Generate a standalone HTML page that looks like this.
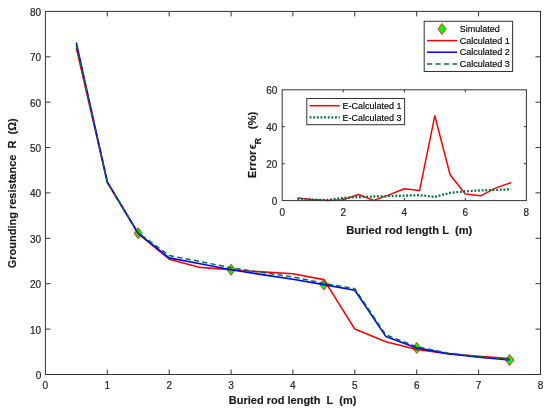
<!DOCTYPE html>
<html><head><meta charset="utf-8"><title>Grounding resistance</title>
<style>html,body{margin:0;padding:0;background:#fff}svg{display:block}</style></head>
<body>
<svg width="550" height="411" viewBox="0 0 550 411">
<rect width="550" height="411" fill="#fff"/>
<path d="M138.2 227.8L142.3 233.3L138.2 238.8L134.1 233.3Z" fill="#0f0" stroke="#e81c10" stroke-width="0.9"/>
<path d="M231.1 264.2L235.2 269.7L231.1 275.2L227.0 269.7Z" fill="#0f0" stroke="#e81c10" stroke-width="0.9"/>
<path d="M323.9 279.1L328.0 284.6L323.9 290.1L319.8 284.6Z" fill="#0f0" stroke="#e81c10" stroke-width="0.9"/>
<path d="M416.7 342.4L420.8 347.9L416.7 353.4L412.6 347.9Z" fill="#0f0" stroke="#e81c10" stroke-width="0.9"/>
<path d="M509.6 354.5L513.7 360.0L509.6 365.5L505.5 360.0Z" fill="#0f0" stroke="#e81c10" stroke-width="0.9"/>
<g fill="none" stroke-linejoin="round">
<polyline points="76.3,47.7 107.3,182.5 138.2,233.6 169.2,259.2 200.1,267.4 231.1,269.7 262.0,271.9 292.9,273.7 323.9,279.6 354.8,329.1 385.8,341.8 416.7,349.5 447.7,353.6 478.6,356.3 509.6,358.6" stroke="#f00" stroke-width="1.6"/>
<polyline points="76.3,42.7 107.3,181.8 138.2,233.3 169.2,257.9 200.1,263.8 231.1,269.7 262.0,274.6 292.9,279.2 323.9,284.6 354.8,290.3 385.8,336.4 416.7,347.9 447.7,353.6 478.6,357.3 509.6,360.0" stroke="#00f" stroke-width="1.6"/>
<polyline points="76.3,45.0 107.3,182.1 138.2,232.7 169.2,255.6 200.1,261.5 231.1,267.8 262.0,272.4 292.9,276.9 323.9,283.3 354.8,288.7 385.8,334.8 416.7,346.8 447.7,352.9 478.6,356.6 509.6,359.3" stroke="#00703c" stroke-width="1.5" stroke-dasharray="5.2 3.3"/>
</g>
<g stroke="#333" stroke-width="1" fill="none">
<rect x="45.4" y="11.4" width="495.1" height="363.1"/>
<path d="M107.3 374.5v-5M107.3 11.4v5M169.2 374.5v-5M169.2 11.4v5M231.1 374.5v-5M231.1 11.4v5M292.9 374.5v-5M292.9 11.4v5M354.8 374.5v-5M354.8 11.4v5M416.7 374.5v-5M416.7 11.4v5M478.6 374.5v-5M478.6 11.4v5M45.4 329.1h5M540.5 329.1h-5M45.4 283.7h5M540.5 283.7h-5M45.4 238.3h5M540.5 238.3h-5M45.4 192.9h5M540.5 192.9h-5M45.4 147.6h5M540.5 147.6h-5M45.4 102.2h5M540.5 102.2h-5M45.4 56.8h5M540.5 56.8h-5"/>
</g>
<rect x="282.2" y="89.8" width="244.2" height="110.8" fill="#fff"/>
<g fill="none" stroke-linejoin="round">
<polyline points="297.5,198.0 312.7,199.5 328.0,200.4 343.2,199.7 358.5,194.5 373.8,200.4 389.0,194.9 404.3,188.8 419.6,190.4 434.8,115.8 450.1,174.7 465.3,194.0 480.6,195.8 495.9,187.9 511.1,182.7" stroke="#f00" stroke-width="1.5"/>
<polyline points="297.5,198.9 312.7,199.7 328.0,200.0 343.2,197.8 358.5,197.1 373.8,196.5 389.0,196.2 404.3,195.6 419.6,195.2 434.8,196.9 450.1,192.8 465.3,191.4 480.6,190.4 495.9,189.9 511.1,189.3" stroke="#00703c" stroke-width="2.3" stroke-dasharray="1.85 1.78"/>
</g>
<g stroke="#333" stroke-width="1" fill="none">
<rect x="282.2" y="89.8" width="244.2" height="110.8"/>
<path d="M343.2 200.6v-2.6M343.2 89.8v2.6M404.3 200.6v-2.6M404.3 89.8v2.6M465.3 200.6v-2.6M465.3 89.8v2.6M282.2 163.7h2.6M526.4 163.7h-2.6M282.2 126.7h2.6M526.4 126.7h-2.6"/>
</g>
<g font-family="Liberation Sans, Arial, sans-serif" font-size="10" fill="#262626" stroke="#262626" stroke-width="0.2">
<text x="45.4" y="389" text-anchor="middle">0</text>
<text x="107.3" y="389" text-anchor="middle">1</text>
<text x="169.2" y="389" text-anchor="middle">2</text>
<text x="231.1" y="389" text-anchor="middle">3</text>
<text x="292.9" y="389" text-anchor="middle">4</text>
<text x="354.8" y="389" text-anchor="middle">5</text>
<text x="416.7" y="389" text-anchor="middle">6</text>
<text x="478.6" y="389" text-anchor="middle">7</text>
<text x="540.5" y="389" text-anchor="middle">8</text>
<text x="41.2" y="378.9" text-anchor="end">0</text>
<text x="41.2" y="333.5" text-anchor="end">10</text>
<text x="41.2" y="288.1" text-anchor="end">20</text>
<text x="41.2" y="242.7" text-anchor="end">30</text>
<text x="41.2" y="197.3" text-anchor="end">40</text>
<text x="41.2" y="152.0" text-anchor="end">50</text>
<text x="41.2" y="106.6" text-anchor="end">60</text>
<text x="41.2" y="61.2" text-anchor="end">70</text>
<text x="41.2" y="15.8" text-anchor="end">80</text>
<text x="282.2" y="215.5" text-anchor="middle">0</text>
<text x="343.2" y="215.5" text-anchor="middle">2</text>
<text x="404.3" y="215.5" text-anchor="middle">4</text>
<text x="465.3" y="215.5" text-anchor="middle">6</text>
<text x="526.4" y="215.5" text-anchor="middle">8</text>
<text x="277.4" y="204.9" text-anchor="end">0</text>
<text x="277.4" y="168.0" text-anchor="end">20</text>
<text x="277.4" y="131.0" text-anchor="end">40</text>
<text x="277.4" y="94.1" text-anchor="end">60</text>
</g>
<g font-family="Liberation Sans, Arial, sans-serif" font-size="11" font-weight="bold" fill="#1a1a1a" stroke="#1a1a1a" stroke-width="0.15" text-anchor="middle" style="white-space:pre">
<text x="292.6" y="404.3" xml:space="preserve">Buried rod length  L  (m)</text>
<text transform="translate(15.9 193.3) rotate(-90)" xml:space="preserve">Grounding resistance  R  (Ω)</text>
<text x="409.3" y="234.1" font-size="11.15" xml:space="preserve">Buried rod length L  (m)</text>
<g transform="translate(255.9 0) rotate(-90)" font-size="11.3" text-anchor="start"><text x="-178.2" y="0">Error</text><text x="-149.5" y="0" font-size="11.5">ϵ</text><text x="-144.3" y="5" font-size="8.8">R</text><text x="-129.2" y="0">(%)</text></g>
</g>
<rect x="424.2" y="21.3" width="88.4" height="50.2" fill="#fff" stroke="#333" stroke-width="1"/>
<path d="M442.0 23.5L446.1 29.0L442.0 34.5L437.9 29.0Z" fill="#0f0" stroke="#e81c10" stroke-width="0.9"/>
<path d="M427 40.6H457" stroke="#f00" stroke-width="1.5"/>
<path d="M427 52.2H457" stroke="#00f" stroke-width="1.5"/>
<path d="M427 63.9H457" stroke="#00703c" stroke-width="1.5" stroke-dasharray="5.2 3.3"/>
<g font-family="Liberation Sans, Arial, sans-serif" font-size="9" fill="#000" stroke="#000" stroke-width="0.15">
<text x="459.7" y="32.2">Simulated</text>
<text x="459.7" y="43.8">Calculated 1</text>
<text x="459.7" y="55.4">Calculated 2</text>
<text x="459.7" y="67.1">Calculated 3</text>
</g>
<rect x="306.8" y="98.5" width="97.8" height="26.2" fill="#fff" stroke="#333" stroke-width="1"/>
<path d="M309.6 105.7H339.7" stroke="#f00" stroke-width="1.5"/>
<path d="M309.6 117.4H339.7" stroke="#00703c" stroke-width="2.3" stroke-dasharray="1.85 1.78"/>
<g font-family="Liberation Sans, Arial, sans-serif" font-size="9" fill="#000" stroke="#000" stroke-width="0.15">
<text x="342.5" y="109.2">E-Calculated 1</text>
<text x="342.5" y="120.9">E-Calculated 3</text>
</g>
</svg>
</body></html>
